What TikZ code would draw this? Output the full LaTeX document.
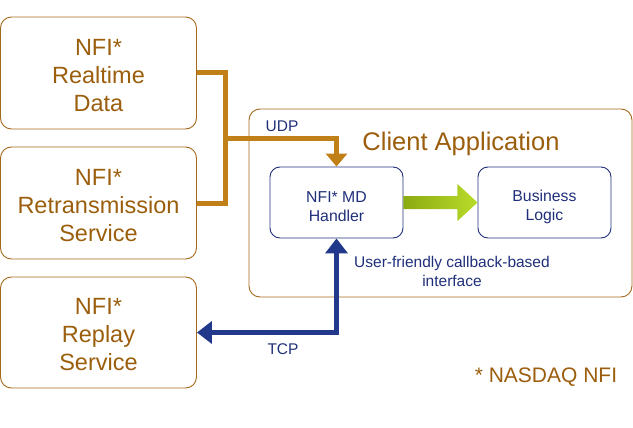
\documentclass[tikz,border=0pt]{standalone}
\usepackage{fontspec}
\setmainfont{Liberation Sans}
\usetikzlibrary{arrows.meta,calc}
\definecolor{brn}{HTML}{9B5E0C}
\definecolor{brnline}{HTML}{A46A1C}
\definecolor{nav}{HTML}{1F2F7A}
\definecolor{navline}{HTML}{22307C}
\definecolor{orl}{HTML}{C07F17}
\definecolor{bll}{HTML}{22388A}
\definecolor{grA}{HTML}{8CAA12}
\definecolor{grB}{HTML}{B8DC2A}
\begin{document}
\begin{tikzpicture}[x=1pt,y=-1pt,
  srcbox/.style={draw=brnline,line width=0.9pt,rounded corners=11pt,minimum width=196pt,minimum height=112pt,inner sep=0pt},
  srctext/.style={align=center,text=brn,font=\fontsize{23.5}{28}\selectfont,inner sep=0pt},
  appbox/.style={draw=brnline,line width=0.9pt,rounded corners=11pt,minimum width=383pt,minimum height=188pt},
  inbox/.style={draw=navline,line width=0.9pt,rounded corners=10pt,minimum width=133pt,minimum height=71pt,inner sep=0pt},
  intext/.style={align=center,text=nav,font=\fontsize{15.8}{19}\selectfont,inner sep=0pt},
  lbl/.style={text=nav,font=\fontsize{15.5}{19}\selectfont,align=center,inner sep=0pt},
  oline/.style={draw=orl,line width=5pt,line join=miter},
  bline/.style={draw=bll,line width=5pt,line join=miter}]
\useasboundingbox (0,0) rectangle (633,428);
\node[srcbox] (rt) at (98.5,73) {};
\node[srctext] (rtt) at ($(rt)+(0,2.5)$) {NFI*\\Realtime\\Data};
\node[srcbox] (rx) at (98.5,203) {};
\node[srctext] (rxt) at ($(rx)+(0,2.5)$) {NFI*\\Retransmission\\Service};
\node[srcbox,minimum height=111pt] (rp) at (98.5,332.5) {};
\node[srctext] (rpt) at ($(rp)+(0,2.5)$) {NFI*\\Replay\\Service};
\node[appbox] (app) at (440.5,203) {};
\node[inbox] (h) at (336.5,202.5) {};
\node[intext] (ht) at ($(h)+(0,4)$) {NFI* MD\\Handler};
\node[inbox] (bl) at (544.5,202.5) {};
\node[intext] (blt) at ($(bl)+(0,4)$) {Business\\Logic};
\node[text=brn,font=\fontsize{25.5}{30}\selectfont,inner sep=0pt] (title) at (461,144) {Client Application};
\node[lbl] (udp) at (282,126) {UDP};
\node[lbl] (tcp) at (283,349) {TCP};
\node[lbl] (cb) at (452,271.5) {User-friendly callback-based\\interface};
\node[text=brn,font=\fontsize{21}{25}\selectfont,inner sep=0pt] (note) at (546,377.5) {* NASDAQ NFI};
% orange UDP connectors
\coordinate (j) at (225,138.5);
\draw[oline] (rt.east) -| (j);
\draw[oline] (rx.east) -| (j);
\draw[oline,-{Triangle[width=21pt,length=13pt]}] (j) -| (h.north);
% blue TCP connector
\draw[bline,{Triangle[width=22pt,length=15pt]}-{Triangle[width=22pt,length=15pt]}] (rp.east) -| (h.south);
% green arrow
\shade[left color=grA,right color=grB]
  ($(h.east)+(0,-6.5)$) -- ($(h.east)+(54,-6.5)$) -- ($(h.east)+(54,-18.5)$) -- (bl.west)
  -- ($(h.east)+(54,18.5)$) -- ($(h.east)+(54,6.5)$) -- ($(h.east)+(0,6.5)$) -- cycle;
\end{tikzpicture}
\end{document}
